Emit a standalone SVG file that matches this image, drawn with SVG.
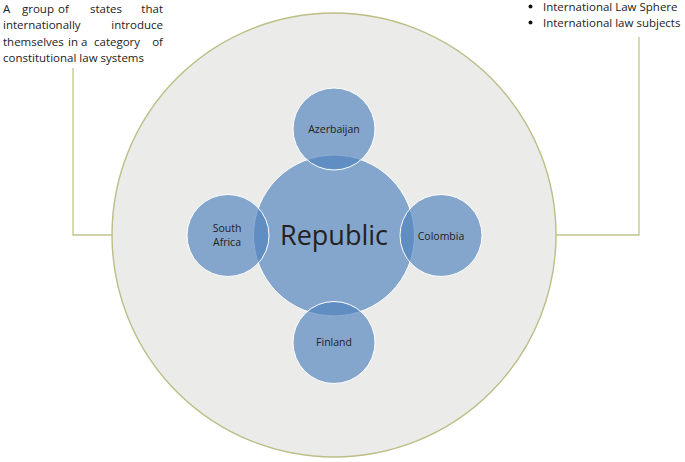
<svg xmlns="http://www.w3.org/2000/svg" width="685" height="462" viewBox="0 0 685 462">
<style>
.t{font-family:"Open Sans","Noto Sans","Liberation Sans",sans-serif;fill:#222}
.p{font-size:11.5px}
.s{font-size:10.5px;text-anchor:middle}
.sat{fill:#4F81BD;fill-opacity:0.65;stroke:#ffffff;stroke-width:1}
.conn{fill:none;stroke:#C4C48E;stroke-width:1.3}
</style>
<rect width="685" height="462" fill="#ffffff"/>
<g id="outer">
<circle cx="334" cy="235" r="222" fill="#EBEBE9" stroke="#BDBD86" stroke-width="1.4"/>
</g>
<g id="connectors">
<path class="conn" d="M112 235 H73 V68"/>
<path class="conn" d="M556 235 H639 V37"/>
</g>
<g id="republic">
<circle class="sat" cx="334" cy="235.5" r="80.5"/>
<text class="t" x="334" y="245" font-size="27" text-anchor="middle">Republic</text>
</g>
<g id="azerbaijan">
<circle class="sat" cx="334" cy="129" r="41"/>
<text class="t s" x="334" y="132.5">Azerbaijan</text>
</g>
<g id="finland">
<circle class="sat" cx="334" cy="342.5" r="41"/>
<text class="t s" x="334" y="346">Finland</text>
</g>
<g id="south-africa">
<circle class="sat" cx="228" cy="235.5" r="41"/>
<text class="t s" x="227" y="232">South</text>
<text class="t s" x="227" y="246">Africa</text>
</g>
<g id="colombia">
<circle class="sat" cx="441" cy="235.5" r="41"/>
<text class="t s" x="441" y="239.5">Colombia</text>
</g>
<g id="left-note">
<text class="t p" y="13"><tspan x="3">A</tspan><tspan x="22">group</tspan><tspan x="58">of</tspan><tspan x="90">states</tspan></text>
<text class="t p" x="163" y="13" text-anchor="end">that</text>
<text class="t p" x="3" y="29">internationally</text>
<text class="t p" x="163" y="29" text-anchor="end">introduce</text>
<text class="t p" y="45.5"><tspan x="3">themselves</tspan><tspan x="68">in</tspan><tspan x="81">a</tspan><tspan x="94">category</tspan></text>
<text class="t p" x="163" y="45.5" text-anchor="end">of</text>
<text class="t p" x="3" y="61.5">constitutional law systems</text>
</g>
<g id="right-note">
<circle cx="530.5" cy="6.5" r="2" fill="#111"/>
<circle cx="530.5" cy="22.5" r="2" fill="#111"/>
<text class="t p" x="543" y="10.5">International Law Sphere</text>
<text class="t p" x="543" y="26.5">International law subjects</text>
</g>
</svg>
